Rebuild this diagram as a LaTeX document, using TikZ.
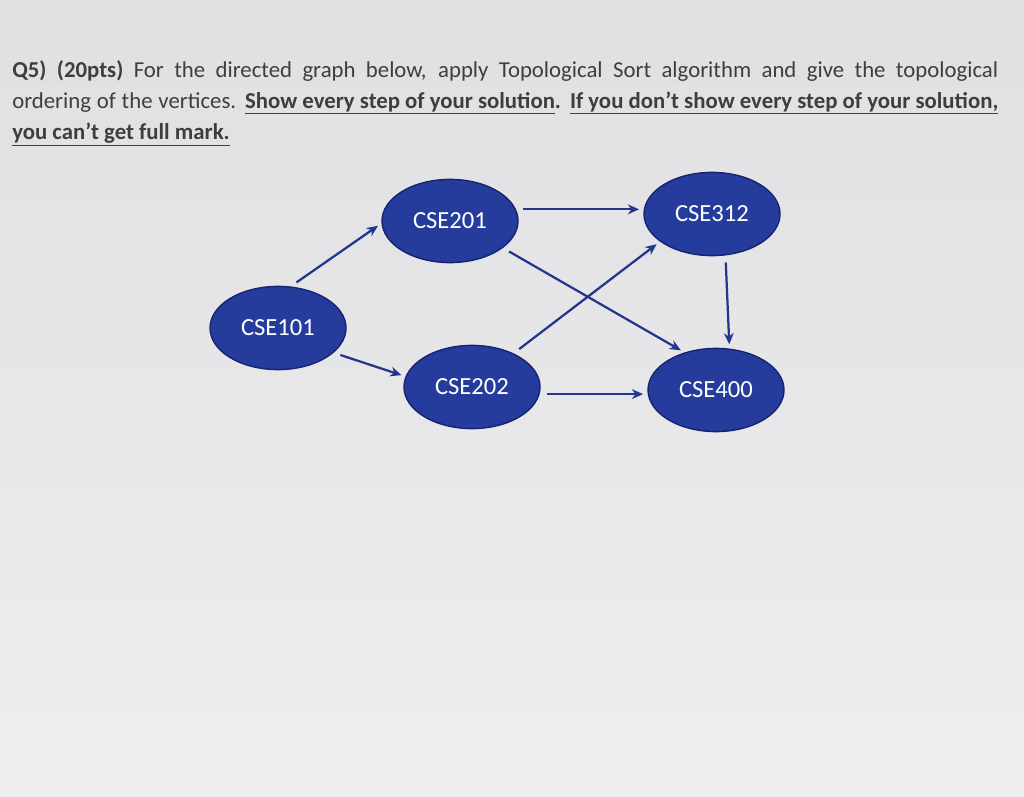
\documentclass[tikz,border=0pt]{standalone}
\usepackage{fontspec}
\setmainfont{Carlito}
\usetikzlibrary{shapes.geometric,arrows.meta}
\definecolor{nodeblue}{RGB}{38,60,156}
\definecolor{nodeline}{RGB}{22,36,112}
\definecolor{edgeblue}{RGB}{36,54,140}
\definecolor{inkgray}{RGB}{62,62,64}
\definecolor{papertop}{RGB}{224,224,227}
\definecolor{paperbot}{RGB}{238,238,240}

\begin{document}
\begin{tikzpicture}[course/.style={ellipse, draw=nodeline, line width=1pt, fill=nodeblue, text=white, minimum width=3.4cm, minimum height=2.08cm, inner sep=0pt, font=\fontsize{17.5}{20}\selectfont},
  edge/.style={draw=edgeblue, line width=1.6pt, -{Stealth[length=8pt,width=7pt]}, shorten <=5pt, shorten >=3pt}]
  \shade[top color=papertop, bottom color=paperbot] (0cm,0cm) rectangle (25.6cm,-19.925cm);
  \useasboundingbox (0cm,0cm) rectangle (25.6cm,-19.925cm);

  \node[anchor=north west, inner sep=0pt, text width=24.65cm, align=justify, text=inkgray, font=\fontsize{16.2}{22}\selectfont] (question) at (0.3cm,-1.5cm)
    {{\bfseries Q5) (20pts)} For the directed graph below, apply Topological Sort algorithm and give the topological\linebreak
     ordering of the vertices. {\bfseries\underline{Show every step of your solution}.} {\bfseries\underline{If you don’t show every step of your solution,}}\linebreak
     {\bfseries\underline{you can’t get full mark.}}};

  \node[course] (c101) at (6.95cm,-8.2cm) {CSE101};
  \node[course] (c201) at (11.25cm,-5.525cm) {CSE201};
  \node[course] (c312) at (17.8cm,-5.35cm) {CSE312};
  \node[course] (c202) at (11.8cm,-9.675cm) {CSE202};
  \node[course] (c400) at (17.9cm,-9.75cm) {CSE400};

  \draw[edge] (c101.73) -- (c201.182); \draw[edge] (c101.-24) -- (c202.171);
  \draw[edge] (c201.10) -- (c201.10 -| c312.west); \draw[edge] (c201.-27) -- (c400.130);
  \draw[edge] (c202.39) -- (c312.208); \draw[edge] (c202.-6) -- (c202.-6 -| c400.west);
  \draw[edge] (c312.-72) -- (c400.72);
\end{tikzpicture}
\end{document}
